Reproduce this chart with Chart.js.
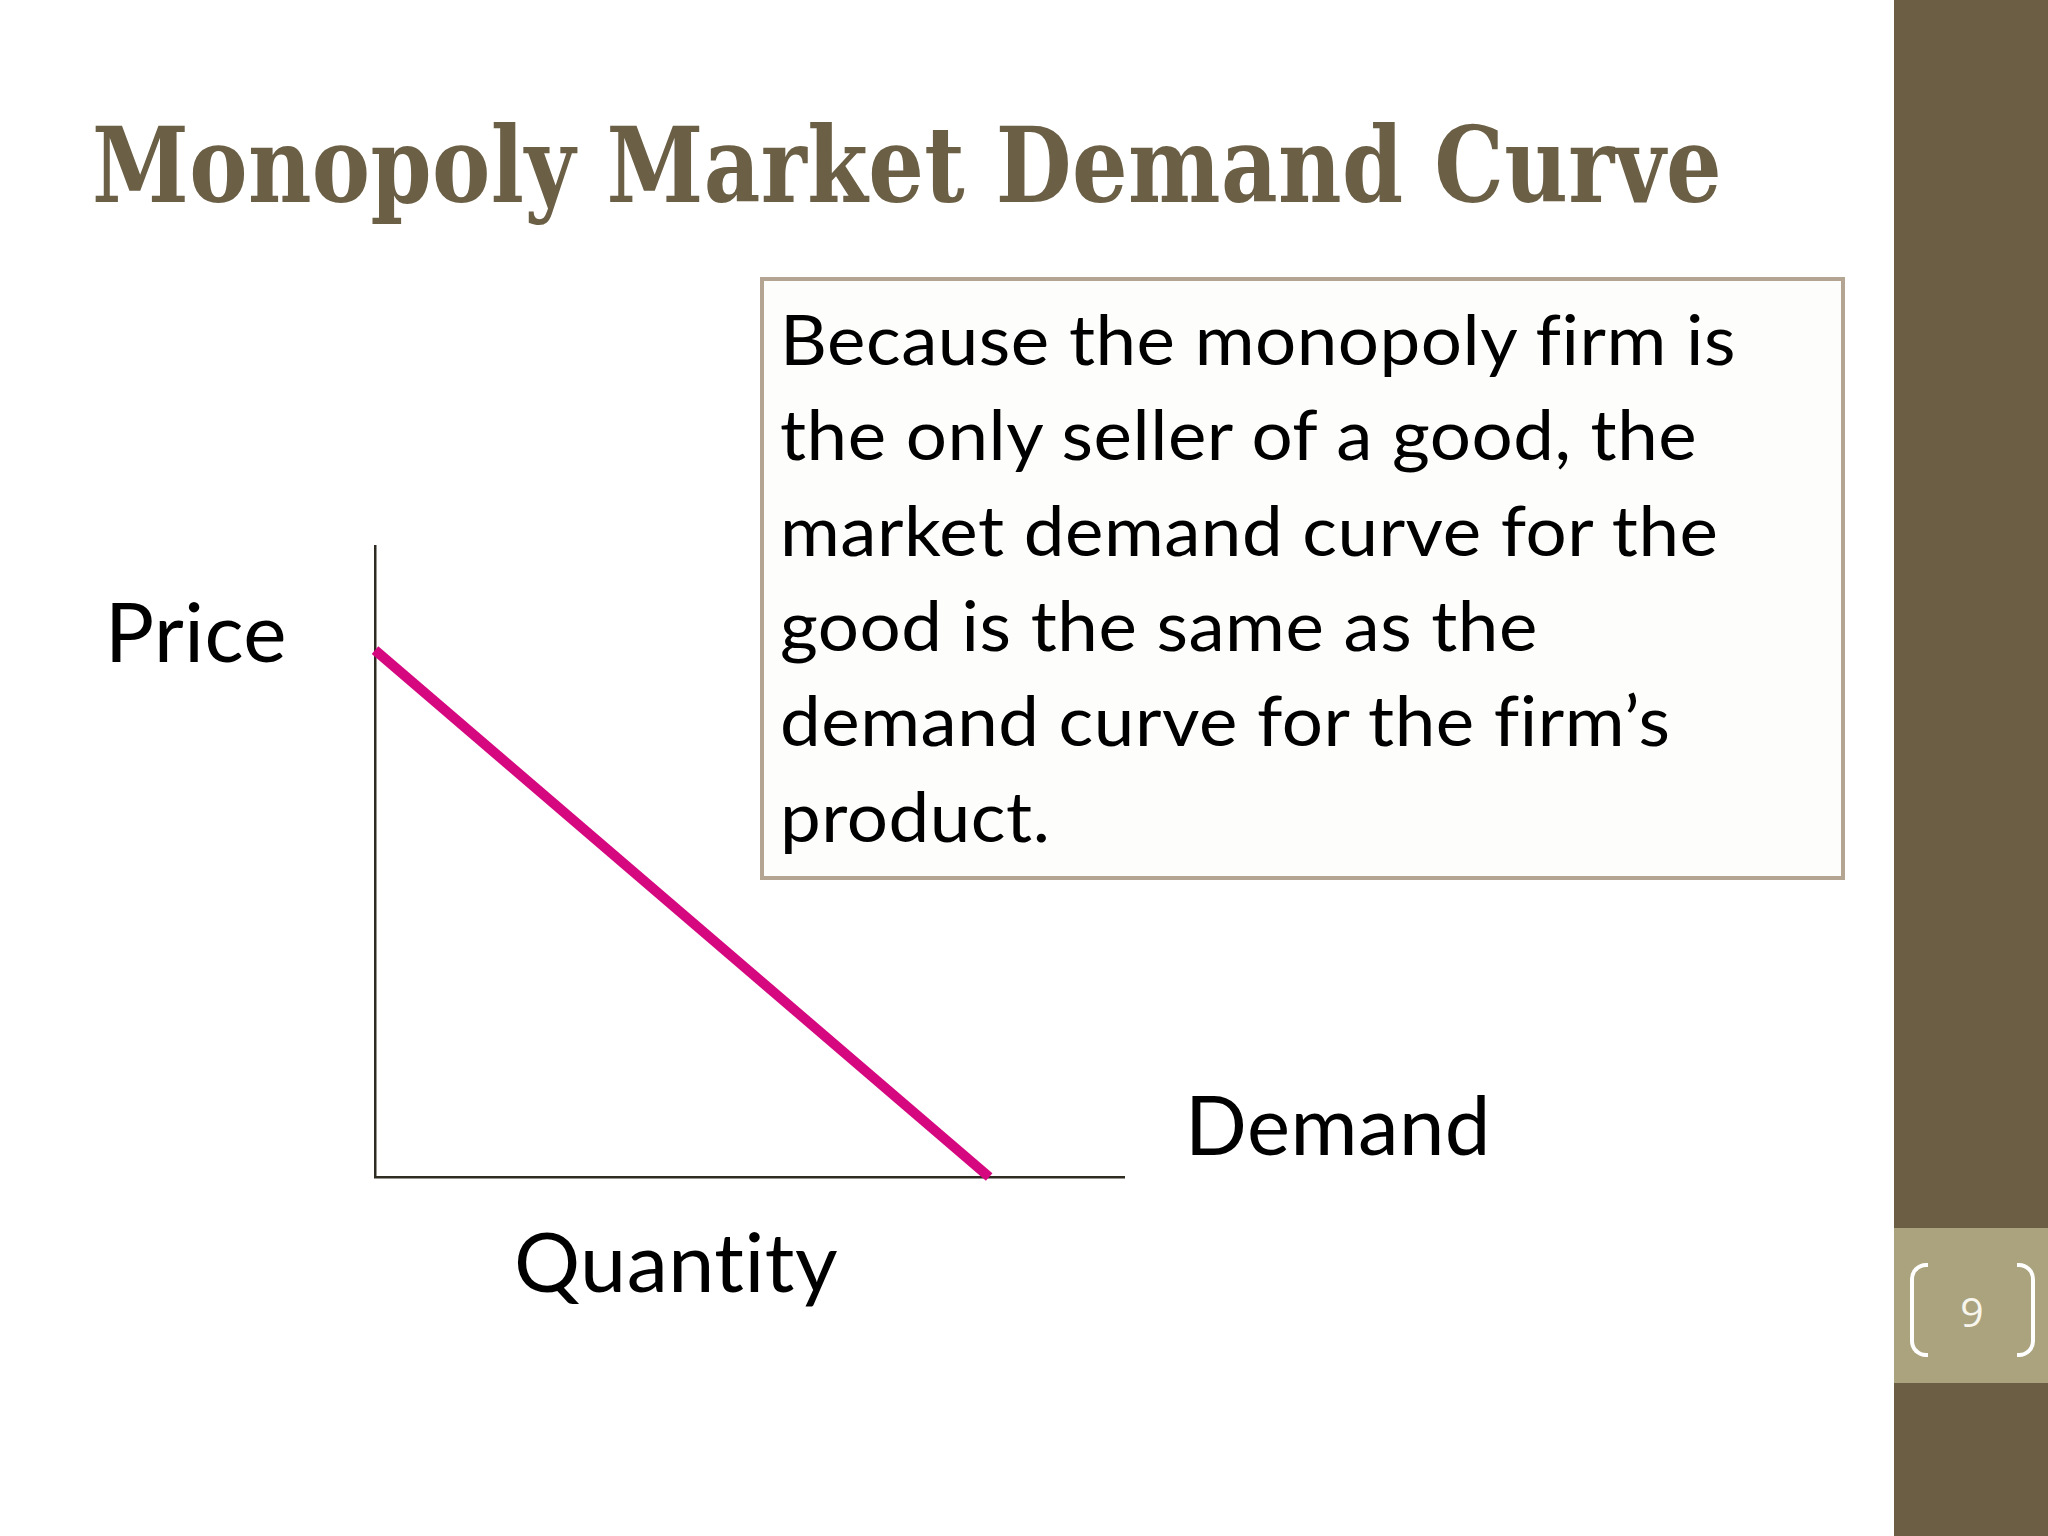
<!DOCTYPE html>
<html>
<head>
<meta charset="utf-8">
<script src="https://cdn.jsdelivr.net/npm/chart.js@4.4.1/dist/chart.umd.min.js"></script>
<style>
  html, body { margin: 0; padding: 0; background: #ffffff; }
  #slide { position: relative; width: 2048px; height: 1536px; overflow: hidden; background: #ffffff; }
  .txt { position: absolute; white-space: nowrap; transform-origin: 0 0;
         font-variant-ligatures: none; font-feature-settings: "liga" 0, "clig" 0, "dlig" 0, "calt" 0;
         letter-spacing: 0.5px; }
  #title { left: 92px; top: 114px; font: bold 104px "DejaVu Serif", serif; line-height: 104px; color: #6b5f46; }
  #note { position: absolute; left: 760px; top: 277px; width: 1077px; height: 595px;
          border: 4px solid #b3a592; background: #fdfefb; }
  .line { left: 780px; font: 70px "Lato", sans-serif; line-height: 95.3px; color: #000; }
  .lbl { font: 81px "Lato", sans-serif; line-height: 81px; color: #000; }
  #side { position: absolute; left: 1894px; top: 0; width: 154px; height: 1536px; background: #6b5e45; }
  #pageBox { position: absolute; left: 1894px; top: 1228px; width: 154px; height: 155px; background: #aba37e; }
  .br { position: absolute; top: 1263px; width: 14px; height: 86px; border: 4px solid #ffffff; }
  #brL { left: 1910px; border-right: none; border-radius: 16px 0 0 16px; }
  #brR { left: 2017px; border-left: none; border-radius: 0 16px 16px 0; }
  #pageNum { left: 1972px; top: 1290px; font: 41px "Open Sans", sans-serif; line-height: 42px; color: #f7f5ec; letter-spacing: 0; }
  #chartBox { position: absolute; left: 355px; top: 526px; width: 789px; height: 671px; }
</style>
</head>
<body>
<div id="slide">
  <div id="title" class="txt">Monopoly Market Demand Curve</div>
  <div id="note"></div>
  <div id="chartBox"><canvas id="demandChart"></canvas></div>
  <div id="priceLbl" class="txt lbl" style="left:105px; top:590px;">Price</div>
  <div id="demandLbl" class="txt lbl" style="left:1185px; top:1083px;">Demand</div>
  <div id="qtyLbl" class="txt lbl" style="left:514px; top:1220px;">Quantity</div>
  <div id="side"></div>
  <div id="pageBox"></div>
  <div id="brL" class="br"></div>
  <div id="brR" class="br"></div>
  <div id="pageNum" class="txt">9</div>
</div>

<script>
// demand curve (axis range 0..10 on both sides)
const quantity = [0, 8.2];
const price = [8.35, 0];
const axisMax = 10;

const noteLines = [
  "Because the monopoly firm is",
  "the only seller of a good, the",
  "market demand curve for the",
  "good is the same as the",
  "demand curve for the firm\u2019s",
  "product."
];

const slide = document.getElementById("slide");

// text box lines
noteLines.forEach((t, i) => {
  const d = document.createElement("div");
  d.className = "txt line";
  d.textContent = t;
  d.style.top = (291 + i * 95.3) + "px";
  slide.appendChild(d);
});

// squeeze a text element horizontally so it spans the width seen on the slide
function fitWidth(el, target) {
  const w = el.getBoundingClientRect().width;
  const k = target / w;
  el.style.transform = "scaleX(" + k + ")";
  return k;
}

function layoutText() {
  fitWidth(document.getElementById("title"), 1630);
  const lines = document.querySelectorAll(".line");
  const k = 956 / lines[0].getBoundingClientRect().width;
  lines.forEach(el => { el.style.transform = "scaleX(" + k + ")"; });
  fitWidth(document.getElementById("priceLbl"), 182);
  fitWidth(document.getElementById("demandLbl"), 306);
  fitWidth(document.getElementById("qtyLbl"), 324);
  const num = document.getElementById("pageNum");
  const nw = num.getBoundingClientRect().width;
  num.style.left = (1972 - nw / 2) + "px";
}

if (document.fonts && document.fonts.ready) {
  document.fonts.ready.then(layoutText);
} else {
  layoutText();
}

const axisColor = "#2e2c22";

const ctx = document.getElementById("demandChart").getContext("2d");
const demandChart = new Chart(ctx, {
  type: "scatter",
  data: {
    datasets: [{
      label: "Demand",
      data: quantity.map((q, i) => ({ x: q, y: price[i] })),
      showLine: true,
      borderColor: "#d6087f",
      borderWidth: 10,
      borderCapStyle: "butt",
      pointRadius: 0,
      clip: false,
      fill: false
    }]
  },
  options: {
    responsive: true,
    maintainAspectRatio: false,
    animation: false,
    layout: { padding: 20 },
    plugins: {
      legend: { display: false },
      tooltip: { enabled: false }
    },
    scales: {
      x: {
        type: "linear",
        min: 0,
        max: axisMax,
        ticks: { display: false },
        grid: { display: false, drawTicks: false },
        border: { display: true, color: axisColor, width: 2.5 }
      },
      y: {
        type: "linear",
        min: 0,
        max: axisMax,
        ticks: { display: false },
        grid: { display: false, drawTicks: false },
        border: { display: true, color: axisColor, width: 2.5 }
      }
    }
  }
});
</script>
</body>
</html>
